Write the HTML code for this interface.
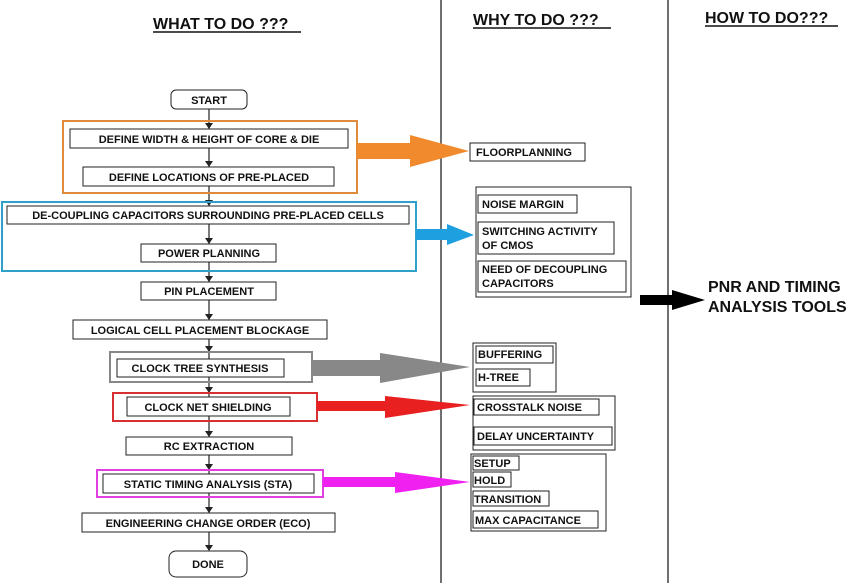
<!DOCTYPE html>
<html><head><meta charset="utf-8"><style>
body{margin:0;background:#fff;width:863px;height:583px;overflow:hidden}
svg{display:block}
text{font-family:"Liberation Sans",Arial,sans-serif;font-weight:bold;fill:#111}
.b{fill:#fff;stroke:#222;stroke-width:1}
.t{font-size:11px}
</style></head><body>
<svg width="863" height="583" viewBox="0 0 863 583">
<line x1="441" y1="0" x2="441" y2="583" stroke="#111" stroke-width="1.2"/>
<line x1="668" y1="0" x2="668" y2="583" stroke="#111" stroke-width="1.2"/>
<text x="153" y="29" font-size="16">WHAT TO DO ???</text><line x1="153" y1="32" x2="301" y2="32" stroke="#111" stroke-width="1.5"/>
<text x="473" y="25" font-size="16">WHY TO DO ???</text><line x1="473" y1="28" x2="611" y2="28" stroke="#111" stroke-width="1.5"/>
<text x="705" y="23" font-size="16">HOW TO DO???</text><line x1="705" y1="26" x2="838" y2="26" stroke="#111" stroke-width="1.5"/>

<line x1="209" y1="109" x2="209" y2="545" stroke="#222" stroke-width="1.2"/>
<g fill="#222">
<polygon points="205,123 213,123 209,129"/>
<polygon points="205,161 213,161 209,167"/>
<polygon points="205,200 213,200 209,206"/>
<polygon points="205,238 213,238 209,244"/>
<polygon points="205,276 213,276 209,282"/>
<polygon points="205,314 213,314 209,320"/>
<polygon points="205,346 213,346 209,352"/>
<polygon points="205,387 213,387 209,393"/>
<polygon points="205,431 213,431 209,437"/>
<polygon points="205,464 213,464 209,470"/>
<polygon points="205,507 213,507 209,513"/>
<polygon points="205,545 213,545 209,551"/>
</g>

<rect x="63" y="121" width="294" height="72" fill="none" stroke="#e08a3c" stroke-width="2"/>
<rect x="2" y="202" width="414" height="69" fill="none" stroke="#2fa0c8" stroke-width="2"/>
<rect x="110" y="352" width="202" height="30" fill="none" stroke="#888" stroke-width="2"/>
<rect x="113" y="393" width="204" height="28" fill="none" stroke="#d83030" stroke-width="2"/>
<rect x="97" y="470" width="226" height="27" fill="none" stroke="#e040e0" stroke-width="2"/>

<polygon points="357,143 410,143 410,135 469,151 410,167 410,159 357,159" fill="#f08a2c"/>
<polygon points="416,229 447,229 447,224 474,235 447,245 447,240 416,240" fill="#1ea0e0"/>
<polygon points="312,360 380,360 380,353 470,367 380,383 380,376 312,376" fill="#888"/>
<polygon points="317,401 385,401 385,396 470,405 385,418 385,411 317,411" fill="#e82020"/>
<polygon points="323,477 395,477 395,472 470,482 395,493 395,487 323,487" fill="#f020f0"/>
<polygon points="640,295 672,295 672,290 705,300 672,310 672,305 640,305" fill="#000"/>

<rect x="171" y="90" width="76" height="19" rx="5" class="b"/><text x="209" y="104" class="t" text-anchor="middle">START</text>
<rect x="70" y="129" width="278" height="19" class="b"/><text x="209" y="143" class="t" text-anchor="middle">DEFINE WIDTH &amp; HEIGHT OF CORE &amp; DIE</text>
<rect x="83" y="167" width="251" height="19" class="b"/><text x="209" y="181" class="t" text-anchor="middle">DEFINE LOCATIONS OF PRE-PLACED</text>
<rect x="7" y="206" width="402" height="18" class="b"/><text x="208" y="219" class="t" text-anchor="middle">DE-COUPLING CAPACITORS SURROUNDING PRE-PLACED CELLS</text>
<rect x="141" y="244" width="135" height="18" class="b"/><text x="209" y="257" class="t" text-anchor="middle">POWER PLANNING</text>
<rect x="141" y="282" width="135" height="18" class="b"/><text x="209" y="295" class="t" text-anchor="middle">PIN PLACEMENT</text>
<rect x="73" y="320" width="254" height="19" class="b"/><text x="200" y="334" class="t" text-anchor="middle">LOGICAL CELL PLACEMENT BLOCKAGE</text>
<rect x="117" y="359" width="167" height="18" class="b"/><text x="200" y="372" class="t" text-anchor="middle">CLOCK TREE SYNTHESIS</text>
<rect x="127" y="397" width="163" height="19" class="b"/><text x="208" y="411" class="t" text-anchor="middle">CLOCK NET SHIELDING</text>
<rect x="126" y="437" width="166" height="18" class="b"/><text x="209" y="450" class="t" text-anchor="middle">RC EXTRACTION</text>
<rect x="103" y="474" width="211" height="19" class="b"/><text x="208" y="488" class="t" text-anchor="middle">STATIC TIMING ANALYSIS (STA)</text>
<rect x="82" y="513" width="253" height="19" class="b"/><text x="208" y="527" class="t" text-anchor="middle">ENGINEERING CHANGE ORDER (ECO)</text>
<rect x="169" y="551" width="78" height="26" rx="7" class="b"/><text x="208" y="568" class="t" text-anchor="middle">DONE</text>

<rect x="470" y="143" width="115" height="18" class="b"/><text x="476" y="156" class="t">FLOORPLANNING</text>
<rect x="476" y="187" width="155" height="110" class="b"/>
<rect x="478" y="195" width="99" height="18" class="b"/><text x="482" y="208" class="t">NOISE MARGIN</text>
<rect x="478" y="222" width="136" height="32" class="b"/><text x="482" y="235" class="t">SWITCHING ACTIVITY</text><text x="482" y="249" class="t">OF CMOS</text>
<rect x="478" y="261" width="148" height="31" class="b"/><text x="482" y="273" class="t">NEED OF DECOUPLING</text><text x="482" y="287" class="t">CAPACITORS</text>
<rect x="473" y="343" width="83" height="49" class="b"/>
<rect x="476" y="346" width="77" height="17" class="b"/><text x="478" y="358" class="t">BUFFERING</text>
<rect x="476" y="369" width="54" height="17" class="b"/><text x="478" y="381" class="t">H-TREE</text>
<rect x="473" y="396" width="142" height="54" class="b"/>
<rect x="474" y="399" width="125" height="16" class="b"/><text x="477" y="411" class="t">CROSSTALK NOISE</text>
<rect x="474" y="427" width="138" height="18" class="b"/><text x="477" y="440" class="t">DELAY UNCERTAINTY</text>
<rect x="471" y="454" width="135" height="77" class="b"/>
<rect x="473" y="456" width="46" height="14" class="b"/><text x="474" y="467" class="t">SETUP</text>
<rect x="473" y="472" width="38" height="15" class="b"/><text x="474" y="484" class="t">HOLD</text>
<rect x="473" y="491" width="76" height="15" class="b"/><text x="474" y="503" class="t">TRANSITION</text>
<rect x="473" y="511" width="125" height="17" class="b"/><text x="475" y="524" class="t">MAX CAPACITANCE</text>

<text x="708" y="292" font-size="16">PNR AND TIMING</text>
<text x="708" y="312" font-size="16">ANALYSIS TOOLS</text>
</svg>
</body></html>
